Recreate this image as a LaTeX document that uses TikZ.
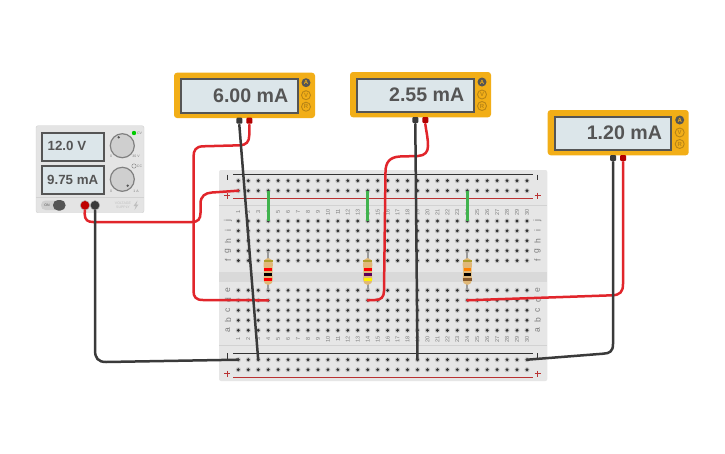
\documentclass[tikz,border=0pt]{standalone}
\usepackage{fontspec}
\setmainfont{Liberation Sans}
\definecolor{boardgray}{HTML}{E6E6E6}
\definecolor{gapgray}{HTML}{D9D9D9}
\definecolor{linegray}{HTML}{D2D2D2}
\definecolor{holegray}{HTML}{C6C6C6}
\definecolor{holedark}{HTML}{333333}
\definecolor{labelgray}{HTML}{7A7A7A}
\definecolor{railred}{HTML}{B93232}
\definecolor{railblack}{HTML}{333333}
\definecolor{wirered}{HTML}{E1252B}
\definecolor{wireblack}{HTML}{3A3A3A}
\definecolor{wiregreen}{HTML}{41B34E}
\definecolor{meterorange}{HTML}{F2AE17}
\definecolor{dialorange}{HTML}{B98516}
\definecolor{lcdblue}{HTML}{DCE6EA}
\definecolor{lcdedge}{HTML}{555555}
\definecolor{supplygray}{HTML}{E4E4E4}
\definecolor{knobgray}{HTML}{CFCFCF}
\definecolor{bodytan}{HTML}{E0B878}
\definecolor{legsilver}{HTML}{9A9A9A}
\tikzset{
    lcd/.style={draw=lcdedge, line width=2pt, fill=lcdblue, inner sep=0pt, anchor=north west},
    readout/.style={text=lcdedge, font=\bfseries\fontsize{19.6}{24}\selectfont, inner sep=0pt},
    smallread/.style={text=lcdedge, font=\bfseries\fontsize{13.3}{16}\selectfont, inner sep=0pt},
    dial/.style={circle, minimum size=9pt, inner sep=0pt, line width=0.9pt, font=\bfseries\fontsize{6}{6}\selectfont},
    redwire/.style={draw=wirered, line width=2.5pt, line cap=round},
    blackwire/.style={draw=wireblack, line width=2.5pt, line cap=round},
    jumper/.style={draw=wiregreen, line width=2.8pt},
    collabel/.style={text=labelgray, font=\fontsize{5.5}{6}\selectfont, rotate=90, inner sep=0pt},
    rowlabel/.style={text=labelgray, font=\fontsize{8.5}{9}\selectfont, rotate=90, inner sep=0pt},
    tiny/.style={text=gray, font=\fontsize{3.5}{4}\selectfont, inner sep=0pt, align=center},
}
\begin{document}
\begin{tikzpicture}[x=1pt, y=-1pt]
\useasboundingbox (0,0) rectangle (725,453);
\fill[white] (0,0) rectangle (725,453);

\fill[boardgray, rounded corners=2pt] (219,170) rectangle (547.3,381);
\fill[gapgray] (219,272) rectangle (547.3,282);
\draw[linegray] (219,205.5) -- (547.3,205.5);
\draw[linegray] (219,345) -- (547.3,345);
\draw[railblack, line width=0.9pt] (233,174.3) -- (533,174.3);
\draw[railred, line width=0.9pt] (233,198.3) -- (533,198.3);
\draw[railblack, line width=0.9pt] (233,353.3) -- (533,353.3);
\draw[railred, line width=0.9pt] (233,377.3) -- (533,377.3);
\foreach \rowy in {180.7,190.7,221,230.8,240.7,250.7,260.6,290.3,300.3,310.3,320.3,330.3,359.7,369.7}
    \foreach \col in {0,...,29} {
        \fill[holegray] (238.3+\col*9.955,\rowy) circle (2.6pt);
        \fill[holedark] (238.3+\col*9.955,\rowy) circle (1.6pt);
    }
\foreach \col in {1,...,30} {
    \node[collabel] at (228.35+\col*9.955,212) {\col};
    \node[collabel] at (228.35+\col*9.955,339) {\col};
}
\foreach \lab/\rowy in {j/221,i/230.8,h/240.7,g/250.7,f/260.6,e/290.3,d/300.3,c/310.3,b/320.3,a/330.3} {
    \node[rowlabel] at (228,\rowy) {\lab};
    \node[rowlabel] at (537.5,\rowy) {\lab};
}
\foreach \sx in {227,537.7} {
    \draw[railblack, line width=0.7pt] (\sx,174.5) -- (\sx,180);
    \draw[railblack, line width=0.7pt] (\sx,353) -- (\sx,358.5);
    \draw[railred, line width=0.7pt] (\sx-3,195.5) -- (\sx+3,195.5) (\sx,192.5) -- (\sx,198.5);
    \draw[railred, line width=0.7pt] (\sx-3,373.5) -- (\sx+3,373.5) (\sx,370.5) -- (\sx,376.5);
}

\foreach \num/\colx in {1/268.2,2/367.7,3/467.3} {
    \coordinate (jtop\num) at (\colx,190.7);
    \coordinate (jbot\num) at (\colx,221);
    \draw[jumper] (jtop\num) -- (jbot\num);
}

\foreach \num/\colx/\bandA/\bandB/\bandC in {1/268.2/red/black/red,2/367.7/red/violet!70!black/yellow,3/467.3/orange/black/brown!70!black} {
    \draw[legsilver, line width=1.8pt] (\colx,250.7) -- (\colx,290.3);
    \fill[bodytan, rounded corners=2pt] (\colx-2,258) -- (\colx+2,258) -- (\colx+5,262) -- (\colx+4.4,266) -- (\colx+4.2,277) -- (\colx+5,281) -- (\colx+2,285) -- (\colx-2,285) -- (\colx-5,281) -- (\colx-4.2,277) -- (\colx-4.4,266) -- (\colx-5,262) -- cycle;
    \fill[olive!60!bodytan] (\colx-4.3,260.3) rectangle (\colx+4.3,262);
    \fill[\bandA] (\colx-3.8,267.7) rectangle (\colx+3.8,270.5);
    \fill[\bandB] (\colx-3.8,272.7) rectangle (\colx+3.8,275.5);
    \fill[\bandC] (\colx-4.2,277.7) rectangle (\colx+4.2,280.5);
}

\fill[supplygray, rounded corners=2pt, draw=linegray] (36,125.7) rectangle (144,212.7);
\draw[linegray] (36,197) -- (144,197);
\node[lcd, minimum width=62pt, minimum height=28pt] (supV) at (41,131.7) {};
\node[lcd, minimum width=62pt, minimum height=28pt] (supA) at (41,165.3) {};
\node[smallread, anchor=west] (supVtext) at (47.5,145.7) {12.0 V};
\node[smallread, anchor=west] (supAtext) at (47,179.5) {9.75 mA};
\foreach \name/\knoby in {knobV/145.7,knobA/179.3}
    \node[circle, fill=knobgray, draw=gray, line width=1.2pt, minimum size=24pt, inner sep=0pt] (\name) at (122.3,\knoby) {};
\fill[lcdedge] (118.7,137.3) circle (1.3pt);
\fill[lcdedge] (127.7,185.7) circle (1.3pt);
\fill[green!80!black] (134,133) circle (2.2pt);
\draw[gray, fill=white!90!black, line width=0.4pt] (134,166) circle (2.2pt);
\node[tiny] at (139.5,133) {CV};
\node[tiny] at (139.5,166) {CC};
\node[tiny] at (111,156.7) {0};
\node[tiny] at (136,156.7) {30 V};
\node[tiny] at (111,190.8) {0};
\node[tiny] at (136,190.8) {1 A};
\fill[knobgray, rounded corners=4.5pt] (41,200.5) rectangle (65.5,210);
\fill[lcdedge, rounded corners=5pt] (53,200) rectangle (65.5,210.5);
\node[tiny, text=lcdedge] at (47,205.3) {ON};
\node[tiny, text=gray!50] at (123,205.3) {VOLTAGE\\SUPPLY};
\fill[gray!50] (137.5,200.5) -- (133.5,206) -- (135.8,206) -- (134.5,210) -- (138.5,204.5) -- (136.2,204.5) -- cycle;
\node[circle, fill=red!75!black, draw=gray!60, line width=0.5pt, minimum size=9.5pt, inner sep=0pt] (plusS) at (85,205.3) {};
\node[circle, fill=wireblack, draw=gray!60, line width=0.5pt, minimum size=9.5pt, inner sep=0pt] (minusS) at (95,205.3) {};

\foreach \num/\mx/\my/\mval in {1/174/72.7/6.00 mA,2/350/72/2.55 mA,3/547.7/110/1.20 mA} {
    \fill[meterorange, rounded corners=3pt] (\mx,\my) rectangle (\mx+141,\my+45.3);
    \node[lcd, minimum width=116.5pt, minimum height=33.5pt] (screen\num) at (\mx+6,\my+5.5) {};
    \node[readout, anchor=east] (read\num) at (\mx+114.5,\my+23.2) {\mval};
    \node[dial, fill=lcdedge, text=meterorange] (dialA\num) at (\mx+132,\my+10) {A};
    \node[dial, draw=dialorange, text=dialorange] (dialV\num) at (\mx+132,\my+22.5) {V};
    \node[dial, draw=dialorange, text=dialorange] (dialR\num) at (\mx+132,\my+34) {R};
    \fill[wireblack, rounded corners=1pt] (\mx+62.3,\my+45) rectangle (\mx+68.3,\my+51);
    \fill[red!70!black, rounded corners=1pt] (\mx+72.3,\my+45) rectangle (\mx+78.3,\my+51);
    \coordinate (black\num) at (\mx+65.3,\my+52);
    \coordinate (red\num) at (\mx+75.3,\my+52);
}

\coordinate (railplus) at (238.3,190.7);
\coordinate (railminus) at (238.3,359.7);
\coordinate (railblackone) at (258.2,359.7);
\coordinate (railblacktwo) at (417.5,359.7);
\coordinate (railblackend) at (527,359.7);
\coordinate (holeA) at (268.2,300.3);
\coordinate (holeB) at (367.7,300.3);
\coordinate (holeC) at (467.3,300.3);

\draw[redwire] (plusS) -- (84.7,214) .. controls (84.7,220) and (88,222) .. (93,222) -- (192,222) .. controls (198,222) and (200.5,219) .. (200.5,213) -- (200.5,204) .. controls (200.5,196) and (205,193) .. (212,192.5) -- (railplus);
\draw[redwire] (red1) -- (249.3,135) .. controls (249.3,142) and (246,145) .. (240,145.3) -- (203,146.3) .. controls (196,146.5) and (193.5,150) .. (193.5,157) -- (193.5,291) .. controls (193.5,297) and (196,300) .. (203,300) -- (holeA);
\draw[redwire] (red2) .. controls (426.5,133) and (428,138) .. (428,146) .. controls (428,152) and (425,155.5) .. (418,156) -- (400,156.5) .. controls (390,157) and (385.5,162) .. (385.5,172) -- (384,291) .. controls (384,297) and (381,300) .. (375,300) -- (holeB);
\draw[redwire] (red3) -- (623,284) .. controls (623,292) and (620,295) .. (612,295.3) -- (holeC);
\draw[blackwire] (minusS) -- (95,350) .. controls (95,358) and (98,362) .. (106,362) -- (railminus);
\draw[blackwire] (black1) -- (railblackone);
\draw[blackwire] (black2) -- (railblacktwo);
\draw[blackwire] (black3) -- (613,344) .. controls (613,351) and (610,353.5) .. (603,353.7) -- (railblackend);
\end{tikzpicture}
\end{document}
